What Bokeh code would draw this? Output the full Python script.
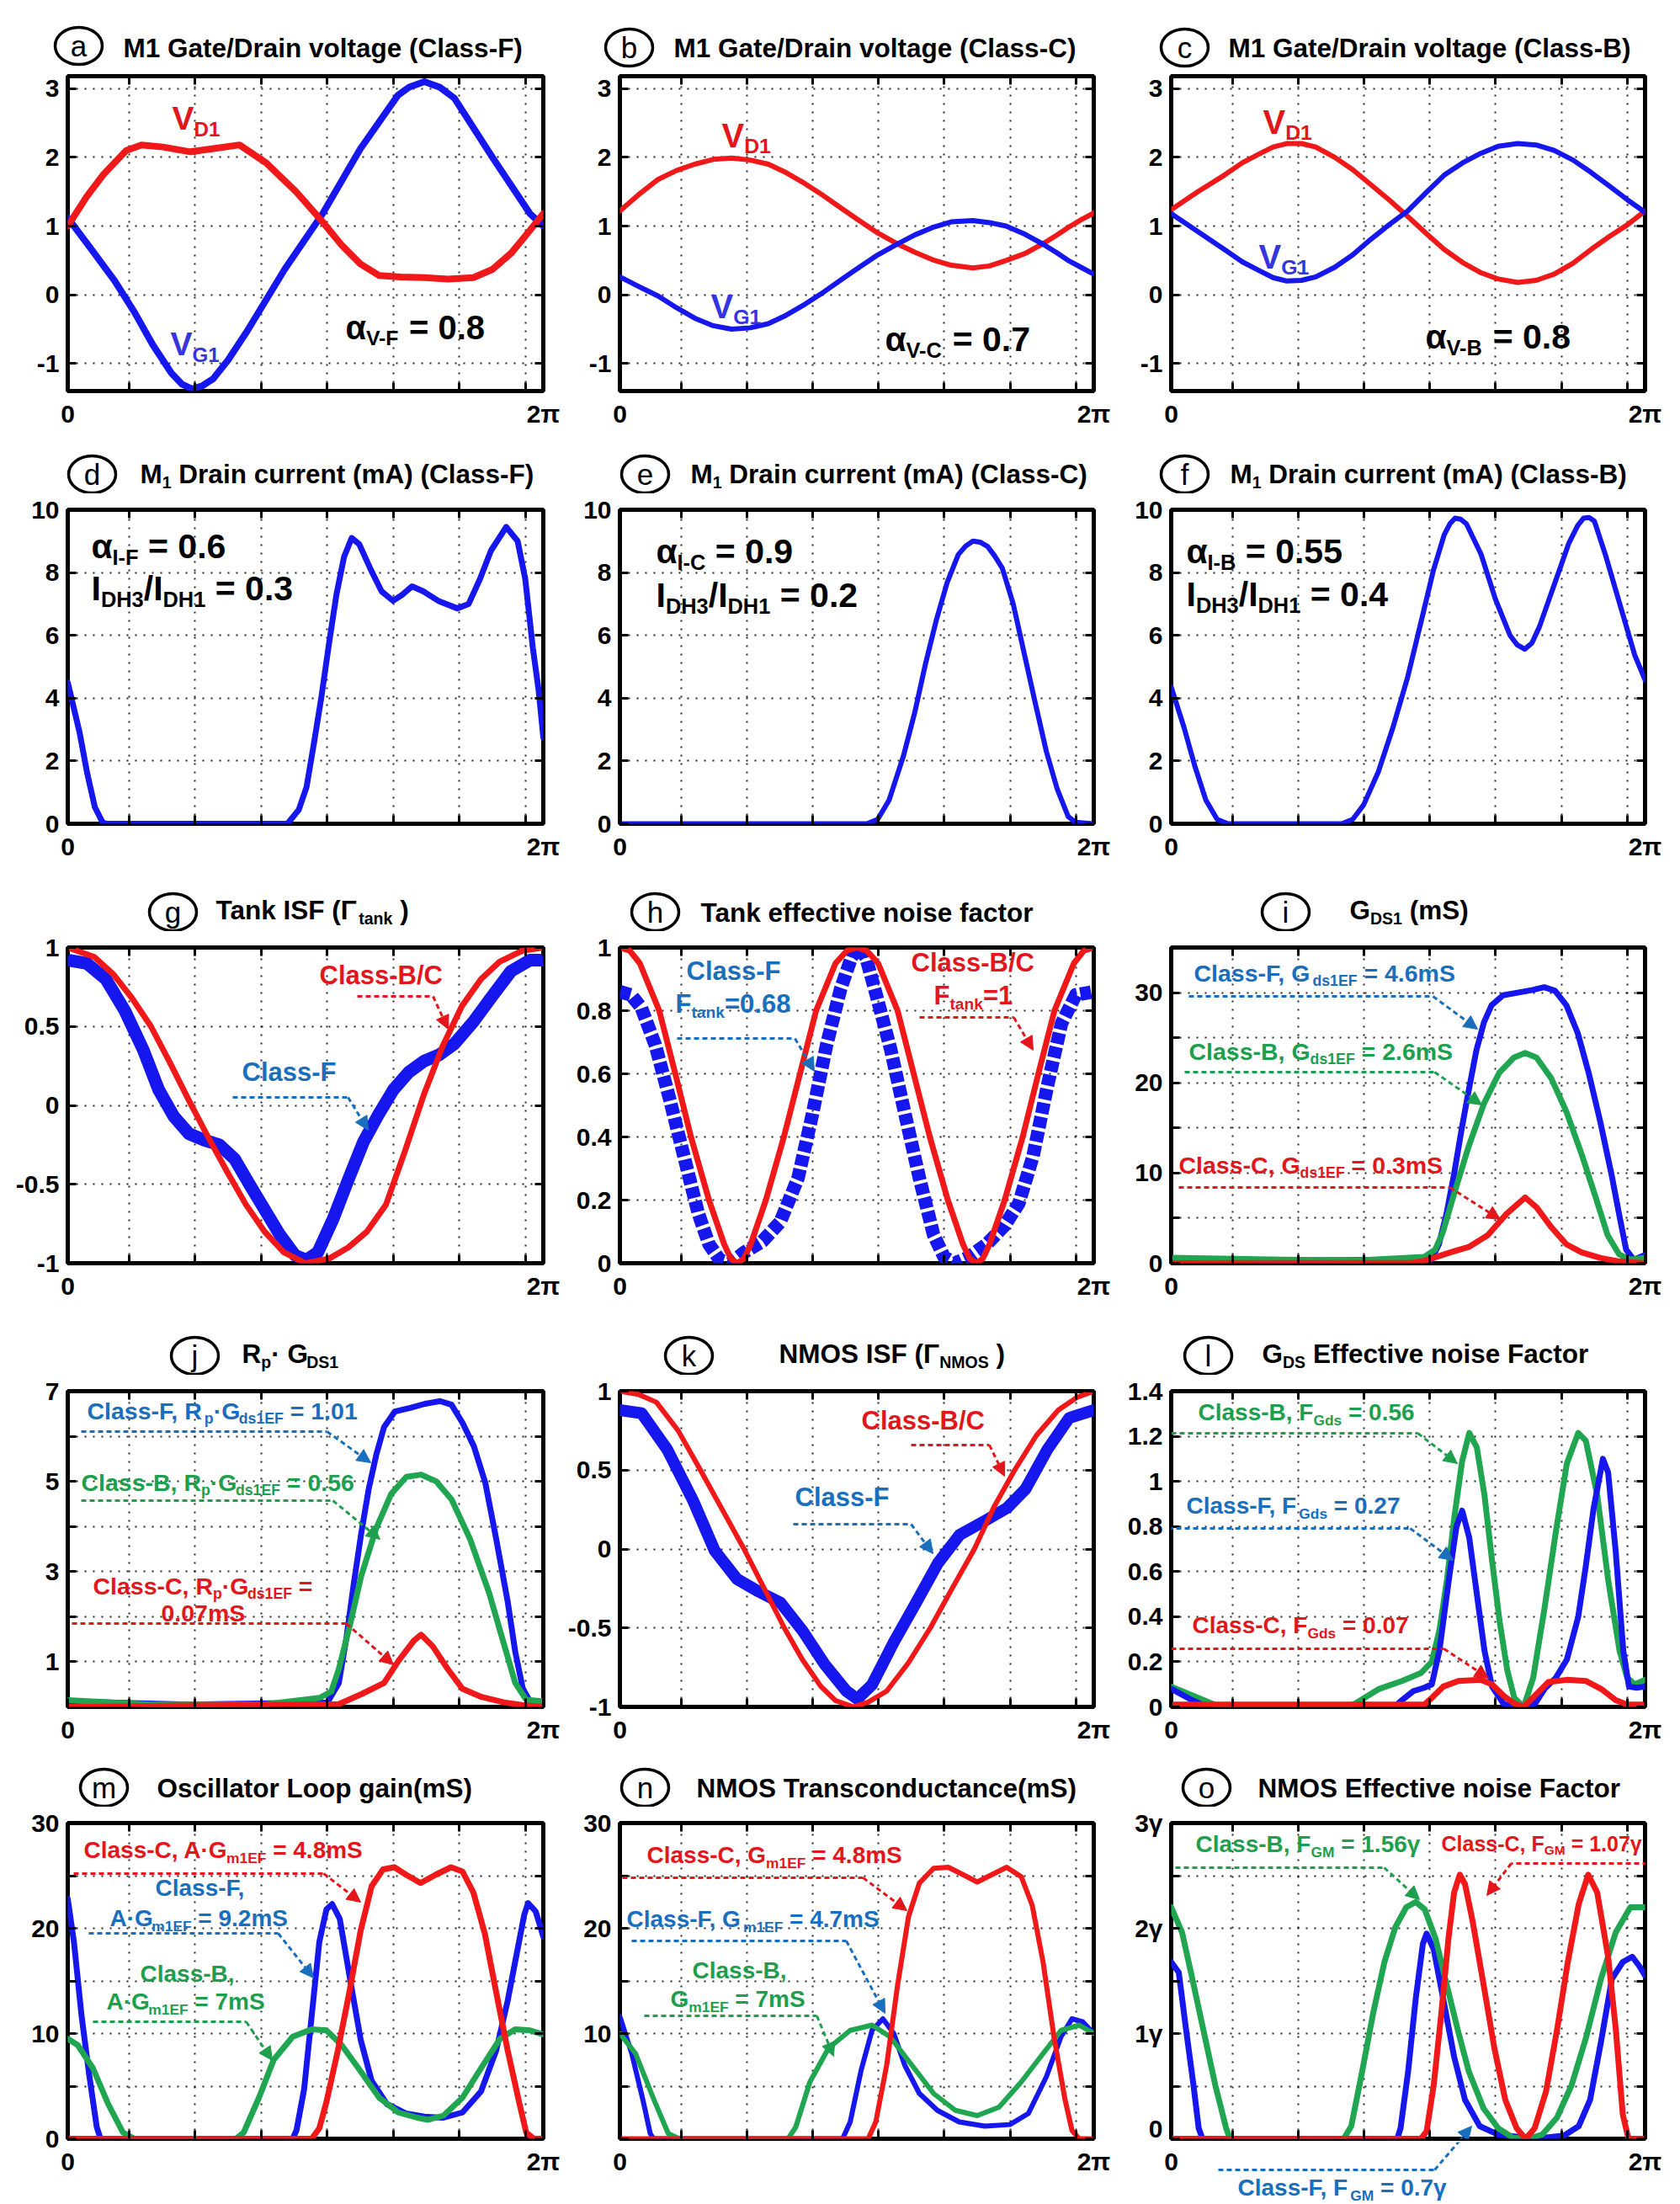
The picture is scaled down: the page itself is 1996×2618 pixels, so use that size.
import math
import re
from bokeh.plotting import figure
from bokeh.models import (Range1d, LinearAxis, Grid, FixedTicker, CustomJSTickFormatter,
                          Label, Arrow, NormalHead)
from bokeh.layouts import column, row
from bokeh.embed import file_html
from bokeh.resources import INLINE

TWO_PI = 2 * math.pi
FONT = "Liberation Sans"

# ------------------------------------------------------------------ data
# x values are phase / (2*pi)
# (a) Class-F voltages
A_X_VD1 = [0, 0.04, 0.075, 0.123, 0.155, 0.2, 0.258, 0.31, 0.361, 0.417, 0.48, 0.536, 0.575, 0.615,
           0.655, 0.70, 0.75, 0.80, 0.853, 0.893, 0.933, 0.972, 1.0]
A_VD1 = [1.0, 1.43, 1.75, 2.1, 2.18, 2.15, 2.08, 2.13, 2.18, 1.92, 1.5, 1.06, 0.73, 0.45,
         0.28, 0.26, 0.25, 0.23, 0.25, 0.37, 0.61, 0.94, 1.18]
A_X_VG1 = [0, 0.05, 0.099, 0.14, 0.179, 0.218, 0.24, 0.262, 0.284, 0.306, 0.337, 0.377, 0.456, 0.536,
           0.615, 0.694, 0.718, 0.75, 0.782, 0.813, 0.893, 0.972, 1.0]
A_VG1 = [1.12, 0.66, 0.2, -0.25, -0.73, -1.14, -1.3, -1.37, -1.32, -1.22, -0.95, -0.53, 0.37, 1.18,
         2.12, 2.9, 3.02, 3.1, 3.02, 2.86, 2.0, 1.18, 1.0]
# (b) Class-C voltages
B_X = [0, 0.04, 0.081, 0.12, 0.158, 0.197, 0.236, 0.275, 0.313, 0.35, 0.39, 0.43, 0.467, 0.505,
       0.544, 0.583, 0.622, 0.66, 0.699, 0.745, 0.78, 0.815, 0.855, 0.892, 0.92, 0.946, 0.973, 1.0]
B_VD1 = [1.22, 1.46, 1.68, 1.81, 1.9, 1.97, 1.99, 1.96, 1.9, 1.78, 1.62, 1.44, 1.26, 1.08,
         0.9, 0.75, 0.62, 0.51, 0.43, 0.39, 0.42, 0.5, 0.6, 0.74, 0.86, 0.98, 1.09, 1.19]
B_VG1 = [0.26, 0.12, -0.02, -0.19, -0.34, -0.45, -0.5, -0.48, -0.42, -0.3, -0.14, 0.04, 0.22, 0.4,
         0.58, 0.73, 0.87, 0.98, 1.06, 1.08, 1.05, 1.0, 0.88, 0.74, 0.62, 0.5, 0.4, 0.3]
# (c) Class-B voltages
C_X = [0, 0.056, 0.112, 0.15, 0.189, 0.215, 0.244, 0.275, 0.305, 0.345, 0.383, 0.42, 0.46, 0.499,
       0.54, 0.576, 0.615, 0.654, 0.69, 0.731, 0.77, 0.808, 0.848, 0.886, 0.925, 0.963, 1.0]
C_VD1 = [1.24, 1.5, 1.74, 1.92, 2.06, 2.15, 2.2, 2.2, 2.15, 2.0, 1.82, 1.61, 1.38, 1.14,
         0.88, 0.66, 0.47, 0.32, 0.23, 0.18, 0.21, 0.3, 0.46, 0.66, 0.85, 1.02, 1.22]
C_VG1 = [1.18, 0.92, 0.66, 0.48, 0.34, 0.25, 0.2, 0.21, 0.26, 0.4, 0.58, 0.8, 1.02, 1.22,
         1.5, 1.74, 1.92, 2.06, 2.16, 2.2, 2.18, 2.1, 1.96, 1.78, 1.58, 1.38, 1.2]
# (d) Class-F drain current
D_X = [0, 0.025, 0.041, 0.057, 0.073, 0.081, 0.462, 0.486, 0.502, 0.517, 0.533, 0.549, 0.565, 0.581,
       0.597, 0.613, 0.637, 0.66, 0.684, 0.704, 0.724, 0.748, 0.779, 0.819, 0.843, 0.867, 0.89, 0.922,
       0.946, 0.962, 0.978, 0.99, 1.0]
D_ID = [4.5, 2.9, 1.6, 0.53, 0.05, 0, 0, 0.45, 1.16, 2.5, 4.0, 5.7, 7.3, 8.5,
        9.1, 8.9, 8.1, 7.4, 7.1, 7.3, 7.56, 7.4, 7.1, 6.86, 7.0, 7.8, 8.7, 9.45,
        9.0, 7.8, 5.6, 4.27, 2.75]
# (e) Class-C drain current
E_X = [0, 0.521, 0.544, 0.568, 0.598, 0.622, 0.645, 0.668, 0.691, 0.714, 0.73, 0.745, 0.76, 0.776,
       0.79, 0.807, 0.83, 0.853, 0.876, 0.9, 0.923, 0.946, 0.961, 1.0]
E_ID = [0, 0, 0.14, 0.75, 2.14, 3.53, 5.1, 6.5, 7.7, 8.57, 8.85, 9.0, 8.97, 8.83,
        8.55, 8.14, 7.0, 5.44, 3.88, 2.3, 1.1, 0.23, 0.05, 0]
# (f) Class-B drain current
F_X = [0, 0.027, 0.05, 0.073, 0.097, 0.12, 0.36, 0.383, 0.406, 0.437, 0.468, 0.499, 0.53, 0.553, 0.576,
       0.588, 0.599, 0.611, 0.623, 0.654, 0.684, 0.715, 0.73, 0.746, 0.761, 0.777, 0.808, 0.839, 0.858,
       0.87, 0.882, 0.893, 0.916, 0.947, 0.978, 1.0]
F_ID = [4.35, 3.07, 1.83, 0.76, 0.14, 0, 0, 0.14, 0.6, 1.65, 3.07, 4.67, 6.6, 8.05, 9.2,
        9.55, 9.73, 9.7, 9.55, 8.58, 7.16, 6.0, 5.7, 5.56, 5.75, 6.27, 7.6, 8.93, 9.5,
        9.73, 9.75, 9.64, 8.58, 6.98, 5.38, 4.58]
# (g) Tank ISF
G_X_RED = [0, 0.056, 0.096, 0.135, 0.175, 0.215, 0.255, 0.295, 0.335, 0.375, 0.414, 0.454, 0.5, 0.55,
           0.59, 0.629, 0.669, 0.709, 0.749, 0.789, 0.829, 0.869, 0.908, 0.956, 1.0]
G_RED = [1.0, 0.94, 0.83, 0.68, 0.5, 0.27, 0.03, -0.2, -0.42, -0.63, -0.8, -0.93, -1.0, -0.97,
         -0.9, -0.8, -0.63, -0.29, 0.07, 0.38, 0.63, 0.8, 0.91, 0.98, 1.0]
G_X_BLUE = [0, 0.04, 0.08, 0.12, 0.159, 0.191, 0.223, 0.255, 0.287, 0.319, 0.351, 0.382, 0.414, 0.446,
            0.478, 0.502, 0.526, 0.558, 0.59, 0.622, 0.653, 0.685, 0.717, 0.749, 0.781, 0.813, 0.853,
            0.892, 0.932, 0.972, 1.0]
G_BLUE = [0.92, 0.9, 0.8, 0.6, 0.35, 0.1, -0.07, -0.18, -0.22, -0.25, -0.34, -0.5, -0.66, -0.82,
          -0.95, -0.98, -0.93, -0.72, -0.47, -0.23, -0.06, 0.1, 0.21, 0.28, 0.32, 0.39, 0.53,
          0.69, 0.85, 0.92, 0.92]
# (h) Tank effective noise factor
H_X_RED = [0, 0.021, 0.042, 0.083, 0.117, 0.15, 0.188, 0.22, 0.234, 0.248, 0.262, 0.276, 0.308, 0.346,
           0.38, 0.414, 0.455, 0.479, 0.5, 0.521, 0.545, 0.586, 0.62, 0.654, 0.692, 0.724, 0.738, 0.752,
           0.766, 0.78, 0.812, 0.85, 0.883, 0.917, 0.958, 0.979, 1.0]
H_RED = [1.0, 0.99, 0.95, 0.8, 0.6, 0.4, 0.2, 0.06, 0.015, 0, 0.015, 0.06, 0.2, 0.4,
         0.6, 0.8, 0.95, 0.99, 1.0, 0.99, 0.95, 0.8, 0.6, 0.4, 0.2, 0.06, 0.015, 0,
         0.015, 0.06, 0.2, 0.4, 0.6, 0.8, 0.95, 0.99, 1.0]
H_X_BLUE = [0, 0.023, 0.045, 0.075, 0.105, 0.135, 0.165, 0.188, 0.211, 0.233, 0.263, 0.301, 0.338,
            0.376, 0.406, 0.436, 0.466, 0.489, 0.504, 0.519, 0.541, 0.571, 0.602, 0.632, 0.662, 0.684,
            0.707, 0.737, 0.774, 0.812, 0.842, 0.872, 0.902, 0.932, 0.962, 1.0]
H_BLUE = [0.86, 0.85, 0.81, 0.69, 0.52, 0.34, 0.16, 0.06, 0.01, 0.0, 0.035, 0.07, 0.13,
          0.27, 0.47, 0.69, 0.87, 0.97, 1.0, 0.97, 0.85, 0.68, 0.47, 0.27, 0.09, 0.02,
          0.0, 0.02, 0.06, 0.12, 0.19, 0.34, 0.56, 0.76, 0.85, 0.86]
# (i) GDS1 (mS)
I_X_BLUE = [0, 0.233, 0.549, 0.565, 0.581, 0.597, 0.613, 0.628, 0.644, 0.66, 0.676, 0.7, 0.731, 0.763,
            0.787, 0.81, 0.834, 0.858, 0.881, 0.905, 0.929, 0.945, 0.96, 0.976, 1.0]
I_BLUE = [0.5, 0.3, 0.4, 2.1, 5.5, 9.9, 14.9, 19.2, 23.6, 26.7, 28.6, 29.7, 30.0, 30.3,
          30.6, 30.2, 28.6, 25.5, 21.1, 15.8, 9.9, 5.5, 1.5, 0.4, 0.9]
I_X_GREEN = [0, 0.233, 0.391, 0.534, 0.557, 0.573, 0.597, 0.628, 0.66, 0.692, 0.723, 0.747, 0.771,
             0.802, 0.834, 0.866, 0.897, 0.921, 0.945, 0.968, 1.0]
I_GREEN = [0.6, 0.4, 0.3, 0.7, 1.5, 3.4, 7.7, 13.0, 17.7, 21.1, 22.8, 23.3, 22.8,
           20.5, 16.8, 12.1, 7.1, 3.1, 1.0, 0.4, 0.6]
I_X_RED = [0, 0.51, 0.534, 0.589, 0.628, 0.668, 0.708, 0.747, 0.771, 0.802, 0.834, 0.866, 0.905, 0.945, 1.0]
I_RED = [0, 0.05, 0.25, 1.2, 1.8, 3.1, 5.5, 7.3, 6.2, 4.0, 2.1, 1.2, 0.6, 0.2, 0]
# (j) Rp * GDS1
J_X_BLUE = [0, 0.254, 0.546, 0.57, 0.586, 0.601, 0.617, 0.633, 0.649, 0.665, 0.688, 0.72, 0.751, 0.783,
            0.807, 0.83, 0.854, 0.878, 0.901, 0.925, 0.941, 0.957, 0.972, 1.0]
J_BLUE = [0.12, 0.05, 0.1, 0.53, 1.53, 2.7, 3.84, 4.84, 5.6, 6.2, 6.55, 6.63, 6.72, 6.78,
          6.7, 6.3, 5.78, 4.97, 3.72, 2.34, 1.22, 0.4, 0.12, 0.12]
J_X_GREEN = [0, 0.175, 0.412, 0.53, 0.554, 0.57, 0.594, 0.617, 0.649, 0.68, 0.712, 0.743, 0.775, 0.807,
             0.846, 0.886, 0.917, 0.941, 0.964, 1.0]
J_GREEN = [0.15, 0.05, 0.05, 0.2, 0.34, 0.84, 1.84, 2.9, 3.97, 4.72, 5.1, 5.15, 5.0, 4.6,
           3.72, 2.53, 1.4, 0.53, 0.16, 0.12]
J_X_RED = [0, 0.57, 0.617, 0.665, 0.696, 0.728, 0.743, 0.767, 0.799, 0.83, 0.87, 0.917, 0.964, 1.0]
J_RED = [0, 0.06, 0.28, 0.53, 1.03, 1.47, 1.6, 1.35, 0.84, 0.4, 0.22, 0.1, 0.03, 0]
# (k) NMOS ISF
K_X_RED = [0, 0.039, 0.077, 0.123, 0.17, 0.216, 0.262, 0.308, 0.347, 0.385, 0.424, 0.455, 0.493, 0.524,
           0.563, 0.609, 0.655, 0.701, 0.748, 0.79, 0.833, 0.879, 0.925, 0.964, 1.0]
K_RED = [1.0, 0.98, 0.93, 0.75, 0.5, 0.25, 0, -0.27, -0.5, -0.7, -0.87, -0.96, -1.0, -0.97,
         -0.9, -0.72, -0.5, -0.25, 0, 0.27, 0.5, 0.72, 0.88, 0.96, 1.0]
K_X_BLUE = [0, 0.046, 0.1, 0.154, 0.2, 0.247, 0.293, 0.339, 0.386, 0.432, 0.478, 0.501, 0.532, 0.578,
            0.625, 0.671, 0.717, 0.771, 0.817, 0.856, 0.902, 0.948, 1.0]
K_BLUE = [0.88, 0.86, 0.63, 0.31, -0.01, -0.19, -0.27, -0.34, -0.52, -0.73, -0.9, -0.95, -0.86, -0.59,
          -0.34, -0.09, 0.09, 0.18, 0.26, 0.38, 0.63, 0.83, 0.88]
# (l) GDS effective noise factor
L_X_GREEN = [0, 0.091, 0.115, 0.376, 0.392, 0.439, 0.487, 0.527, 0.55, 0.566, 0.582, 0.598, 0.614,
             0.629, 0.645, 0.661, 0.677, 0.693, 0.709, 0.724, 0.744, 0.764, 0.788, 0.812, 0.835,
             0.859, 0.875, 0.899, 0.922, 0.946, 0.962, 0.978, 1.0]
L_GREEN = [0.09, 0.01, 0, 0, 0.02, 0.08, 0.115, 0.15, 0.2, 0.34, 0.565, 0.85, 1.09,
           1.215, 1.15, 0.94, 0.65, 0.38, 0.165, 0.04, 0, 0.13, 0.44, 0.78, 1.08,
           1.215, 1.18, 0.94, 0.565, 0.25, 0.13, 0.1, 0.12]
L_X_BLUE = [0, 0.044, 0.075, 0.471, 0.487, 0.511, 0.534, 0.55, 0.566, 0.586, 0.602, 0.614, 0.629,
            0.645, 0.661, 0.677, 0.701, 0.717, 0.744, 0.768, 0.788, 0.812, 0.835, 0.859, 0.875,
            0.891, 0.911, 0.922, 0.938, 0.954, 0.966, 0.982, 1.0]
L_BLUE = [0.08, 0.03, 0, 0, 0.03, 0.07, 0.085, 0.1, 0.25, 0.565, 0.8, 0.87, 0.75,
          0.5, 0.25, 0.09, 0.015, 0, 0, 0.015, 0.08, 0.13, 0.21, 0.4, 0.625,
          0.875, 1.1, 1.04, 0.69, 0.25, 0.09, 0.085, 0.09]
L_X_RED = [0, 0.534, 0.55, 0.574, 0.606, 0.653, 0.677, 0.701, 0.724, 0.744, 0.768, 0.796, 0.835,
           0.875, 0.907, 0.938, 0.962, 1.0]
L_RED = [0.01, 0.01, 0.04, 0.09, 0.115, 0.12, 0.1, 0.05, 0.015, 0, 0.05, 0.11, 0.12,
         0.115, 0.08, 0.03, 0.01, 0.01]
# (m) Oscillator loop gain (mS)
M_X_BLUE = [0, 0.013, 0.029, 0.045, 0.061, 0.069, 0.473, 0.481, 0.497, 0.513, 0.529, 0.544, 0.556,
            0.572, 0.592, 0.616, 0.639, 0.671, 0.711, 0.75, 0.79, 0.83, 0.869, 0.901, 0.925, 0.945,
            0.96, 0.968, 0.984, 1.0]
M_BLUE = [22.8, 18.7, 11.7, 6.1, 1.1, 0, 0, 0.8, 4.7, 11.7, 18.7, 21.8, 22.3,
          20.9, 15.6, 9.4, 5.5, 3.3, 2.4, 2.1, 2.0, 2.5, 4.5, 8.4, 13.1, 17.8,
          21.3, 22.4, 21.6, 19.2]
M_X_GREEN = [0, 0.021, 0.053, 0.085, 0.116, 0.14, 0.354, 0.37, 0.402, 0.433, 0.473, 0.513, 0.544,
             0.576, 0.616, 0.655, 0.695, 0.735, 0.758, 0.79, 0.83, 0.869, 0.909, 0.941, 0.972, 1.0]
M_GREEN = [9.5, 8.9, 6.7, 3.3, 0.6, 0, 0, 0.6, 3.9, 7.5, 9.7, 10.4, 10.3,
           8.9, 6.4, 3.9, 2.5, 2.0, 1.8, 2.2, 3.9, 6.7, 9.5, 10.4, 10.3, 9.9]
M_X_RED = [0, 0.513, 0.529, 0.544, 0.568, 0.592, 0.616, 0.639, 0.663, 0.687, 0.711, 0.742, 0.774,
           0.806, 0.83, 0.853, 0.877, 0.901, 0.925, 0.949, 0.964, 0.98, 1.0]
M_RED = [0, 0, 1.0, 3.5, 8.4, 13.9, 19.8, 24.0, 25.6, 25.8, 25.1, 24.3, 25.1,
         25.8, 25.4, 23.4, 19.5, 13.9, 8.4, 3.5, 0.6, 0, 0]
# (n) NMOS transconductance (mS)
N_X_RED = [0, 0.524, 0.54, 0.563, 0.586, 0.609, 0.632, 0.662, 0.693, 0.724, 0.754, 0.785, 0.816,
           0.847, 0.87, 0.893, 0.916, 0.939, 0.954, 0.969, 1.0]
N_RED = [0, 0, 1.6, 7.0, 14.6, 21.1, 24.3, 25.7, 25.8, 25.1, 24.4, 25.1, 25.8,
         24.9, 22.2, 16.8, 9.7, 3.8, 0.8, 0, 0]
N_X_BLUE = [0, 0.025, 0.048, 0.064, 0.071, 0.47, 0.486, 0.509, 0.532, 0.555, 0.578, 0.601, 0.632,
            0.67, 0.716, 0.77, 0.823, 0.862, 0.9, 0.931, 0.954, 0.977, 1.0]
N_BLUE = [11.6, 8.1, 3.8, 0.5, 0, 0, 1.6, 6.5, 10.3, 11.4, 10.0, 7.0, 4.3,
          2.7, 1.6, 1.2, 1.35, 2.4, 5.9, 9.7, 11.4, 11.1, 10.0]
N_X_GREEN = [0, 0.033, 0.071, 0.102, 0.125, 0.355, 0.371, 0.401, 0.44, 0.486, 0.532, 0.57, 0.616,
             0.662, 0.708, 0.754, 0.8, 0.847, 0.893, 0.931, 0.969, 1.0]
N_GREEN = [10.0, 8.1, 3.8, 0.5, 0, 0, 1.1, 5.4, 8.6, 10.3, 10.8, 9.7, 7.0,
           4.3, 2.7, 2.2, 3.0, 5.4, 8.1, 10.3, 10.8, 10.0]
# (o) NMOS effective noise factor (units of gamma)
O_X_GREEN = [0, 0.023, 0.047, 0.07, 0.093, 0.116, 0.124, 0.364, 0.38, 0.403, 0.426, 0.45, 0.473,
             0.496, 0.516, 0.535, 0.558, 0.581, 0.605, 0.628, 0.659, 0.69, 0.721, 0.752, 0.783,
             0.814, 0.845, 0.876, 0.907, 0.938, 0.969, 1.0]
O_GREEN = [2.2, 1.96, 1.47, 0.99, 0.51, 0.1, 0, 0, 0.12, 0.64, 1.19, 1.68, 2.01,
           2.2, 2.25, 2.18, 1.9, 1.47, 1.03, 0.64, 0.29, 0.1, 0.01, 0, 0.04,
           0.2, 0.51, 0.97, 1.52, 1.96, 2.2, 2.2]
O_X_BLUE = [0, 0.016, 0.031, 0.047, 0.058, 0.066, 0.477, 0.484, 0.5, 0.516, 0.531, 0.539, 0.554,
            0.574, 0.597, 0.62, 0.651, 0.69, 0.767, 0.829, 0.86, 0.884, 0.907, 0.93, 0.953, 0.973,
            0.988, 1.0]
O_BLUE = [1.68, 1.58, 1.05, 0.51, 0.1, 0, 0, 0.1, 0.64, 1.33, 1.85, 1.95, 1.8,
          1.33, 0.78, 0.37, 0.12, 0.04, 0, 0.03, 0.12, 0.37, 0.92, 1.52, 1.68, 1.73,
          1.64, 1.55]
O_X_RED = [0, 0.527, 0.539, 0.554, 0.57, 0.585, 0.597, 0.609, 0.62, 0.636, 0.659, 0.682, 0.705,
           0.729, 0.748, 0.767, 0.791, 0.814, 0.837, 0.86, 0.88, 0.899, 0.922, 0.938, 0.953, 0.965, 1.0]
O_RED = [0, 0, 0.07, 0.51, 1.19, 1.9, 2.34, 2.51, 2.42, 2.07, 1.47, 0.86, 0.37,
         0.1, 0, 0.1, 0.45, 1.03, 1.68, 2.23, 2.51, 2.34, 1.73, 1.05, 0.23, 0, 0]

# tick values / labels
YT_V = [-1, 0, 1, 2, 3]
YL_V = ["-1", "0", "1", "2", "3"]
YT_I = [0, 2, 4, 6, 8, 10]
YL_I = ["0", "2", "4", "6", "8", "10"]
YT_ISF = [-1, -0.5, 0, 0.5, 1]
YL_ISF = ["-1", "-0.5", "0", "0.5", "1"]
YT_H = [0, 0.2, 0.4, 0.6, 0.8, 1.0]
YL_H = ["0", "0.2", "0.4", "0.6", "0.8", "1"]
YT_G = [0, 5, 10, 15, 20, 25, 30]
YL_G = ["0", "", "10", "", "20", "", "30"]
YL_N = ["", "", "10", "", "20", "", "30"]
YT_J = [1, 2, 3, 4, 5, 6, 7]
YL_J = ["1", "", "3", "", "5", "", "7"]
YT_L = [0, 0.2, 0.4, 0.6, 0.8, 1.0, 1.2, 1.4]
YL_L = ["0", "0.2", "0.4", "0.6", "0.8", "1", "1.2", "1.4"]
YT_O = [0, 0.5, 1, 1.5, 2, 2.5, 3]
YL_O = ["0", "", "1γ", "", "2γ", "", "3γ"]
XL_START = "0"
XL_END = "2π"

# ------------------------------------------------------------------ style / layout
RED = "#F01818"
BLUE = "#1616EE"
GREEN = "#20A550"
RED_T = "#E3161C"
BLUE_T = "#1A6EBE"
GREEN_T = "#1E9F4D"
VG_T = "#3535E0"

COL_CELL = [668, 657, 671]
COL_LB = [80, 68, 66]
COL_FW = [565, 563, 563]
ROW_START = [0, 520, 1045, 1570, 2090]
ROW_STRIP = [84, 66, 61, 63, 56]    # title strip heights
ROW_TB = [6, 19, 19, 19, 19]        # plot top border
ROW_FH = [374, 373, 375, 375, 375]
ROW_BB = [56, 67, 70, 63, 78]
O_BB = 4                            # panel (o): x labels go into a strip below

WB = {' ': 278, '(': 333, ')': 333, ',': 278, '-': 333, '.': 278, '/': 278, '=': 584, '·': 278,
      'A': 722, 'B': 722, 'C': 722, 'D': 722, 'E': 667, 'F': 611, 'G': 778, 'H': 722, 'I': 278,
      'L': 611, 'M': 833, 'N': 722, 'O': 778, 'R': 722, 'S': 667, 'T': 611, 'V': 667,
      'a': 556, 'c': 556, 'd': 611, 'e': 556, 'f': 333, 'g': 611, 'i': 278, 'k': 556, 'l': 278,
      'm': 889, 'n': 611, 'o': 611, 'p': 611, 'r': 389, 's': 556, 't': 333, 'u': 611, 'v': 556,
      'α': 611, 'γ': 556, 'Γ': 611, 'π': 611}
SUB = 0.62


def tw(s, size):
    return size * sum(WB.get(ch, 556) for ch in s) / 1000.0


def parse(s):
    out, pos = [], 0
    for m in re.finditer(r'_\{([^}]*)\}', s):
        if m.start() > pos:
            out.append((s[pos:m.start()], False))
        out.append((m.group(1), True))
        pos = m.end()
    if pos < len(s):
        out.append((s[pos:], False))
    return out


class Pan:
    def __init__(self, L, T, W, H, y0, y1):
        self.L, self.T, self.W, self.H, self.y0, self.y1 = L, T, W, H, y0, y1

    def to_data(self, X, Y):
        return ((X - self.L) / self.W * TWO_PI,
                self.y0 + (self.T + self.H - Y) / self.H * (self.y1 - self.y0))


class Ident:
    def to_data(self, X, Y):
        return X, Y


IDENT = Ident()


def no_align(fig):
    try:
        fig.frame_align = False
    except Exception:
        pass


def lab(p, x, y, text, size, color, dx=0.0, dy=0.0, bold=True, align="left"):
    p.add_layout(Label(x=x, y=y, x_offset=dx, y_offset=dy, text=text, text_font=FONT,
                       text_font_size=f"{size:.1f}px", text_font_style="bold" if bold else "normal",
                       text_color=color, text_baseline="middle", text_align=align))


def rich(p, pan, text, X, Y, color, size):
    x, y = pan.to_data(X, Y)
    off = 0.0
    for t, sub in parse(text):
        s = size * SUB if sub else size
        core = t.strip(' ')
        if not core:
            off += tw(t, s)
            continue
        lead = len(t) - len(t.lstrip(' '))
        trail = len(t) - len(t.rstrip(' '))
        off += tw(' ' * lead, s)
        lab(p, x, y, core, s, color, dx=off, dy=(-0.33 * size if sub else 0.0))
        off += tw(core, s) + tw(' ' * trail, s)


def arrow(p, pan, color, pts, head=True):
    for i in range(len(pts) - 1):
        x0, y0 = pan.to_data(*pts[i])
        x1, y1 = pan.to_data(*pts[i + 1])
        last = (i == len(pts) - 2)
        hd = NormalHead(size=16, fill_color=color, line_color=color) if (last and head) else None
        p.add_layout(Arrow(x_start=x0, y_start=y0, x_end=x1, y_end=y1, line_color=color,
                           line_width=3, line_dash="6 4", end=hd))


def fmt(ticks, labels):
    return CustomJSTickFormatter(args=dict(t=list(ticks), l=list(labels)), code="""
        for (let i = 0; i < t.length; i++) { if (Math.abs(t[i] - tick) < 1e-6) return l[i]; }
        return '';""")


def make_axis(ticker, formatter, blank=False):
    ax = LinearAxis(ticker=ticker, formatter=formatter, axis_line_color=None,
                    major_tick_in=10, major_tick_out=0, major_tick_line_width=3,
                    major_tick_line_color="black", minor_tick_line_color=None,
                    major_label_text_font=FONT, major_label_text_font_style="bold",
                    major_label_text_font_size="30px", major_label_standoff=10,
                    major_label_text_color="black")
    if blank:
        ax.major_label_text_font_size = "1px"
        ax.major_label_standoff = 0
    return ax


def strip(x0, y0, w, h):
    s = figure(width=w, height=h, x_range=Range1d(x0, x0 + w), y_range=Range1d(y0 + h, y0),
               min_border=0, min_border_left=0, min_border_right=0, min_border_top=0,
               min_border_bottom=0, x_axis_location=None, y_axis_location=None,
               toolbar_location=None, tools="", output_backend="svg")
    s.center = [m for m in s.center if not isinstance(m, Grid)]
    s.outline_line_color = None
    s.background_fill_color = "white"
    s.border_fill_color = "white"
    no_align(s)
    return s


GRID_X = [(0.93 + k) / 7.2 * TWO_PI for k in range(7)]
X_TICKS = [0.0] + GRID_X + [TWO_PI]
X_LABELS = [XL_START] + [""] * len(GRID_X) + [XL_END]

SPECS = [
    ("a", (-1.4, 3.18), YT_V, YL_V, [(A_X_VG1, A_VG1, BLUE, 8, None), (A_X_VD1, A_VD1, RED, 8, None)]),
    ("b", (-1.4, 3.18), YT_V, YL_V, [(B_X, B_VD1, RED, 6, None), (B_X, B_VG1, BLUE, 6, None)]),
    ("c", (-1.4, 3.18), YT_V, YL_V, [(C_X, C_VD1, RED, 6, None), (C_X, C_VG1, BLUE, 6, None)]),
    ("d", (0, 10), YT_I, YL_I, [(D_X, D_ID, BLUE, 7, None)]),
    ("e", (0, 10), YT_I, YL_I, [(E_X, E_ID, BLUE, 6, None)]),
    ("f", (0, 10), YT_I, YL_I, [(F_X, F_ID, BLUE, 6, None)]),
    ("g", (-1, 1), YT_ISF, YL_ISF, [(G_X_BLUE, G_BLUE, BLUE, 15, None), (G_X_RED, G_RED, RED, 7, None)]),
    ("h", (0, 1), YT_H, YL_H, [(H_X_BLUE, H_BLUE, BLUE, 16, "13 4"), (H_X_RED, H_RED, RED, 7, None)]),
    ("i", (0, 35), YT_G, YL_G, [(I_X_BLUE, I_BLUE, BLUE, 7, None), (I_X_GREEN, I_GREEN, GREEN, 7, None),
                                (I_X_RED, I_RED, RED, 7, None)]),
    ("j", (0, 7), YT_J, YL_J, [(J_X_BLUE, J_BLUE, BLUE, 7, None), (J_X_GREEN, J_GREEN, GREEN, 7, None),
                               (J_X_RED, J_RED, RED, 7, None)]),
    ("k", (-1, 1), YT_ISF, YL_ISF, [(K_X_BLUE, K_BLUE, BLUE, 14, None), (K_X_RED, K_RED, RED, 6, None)]),
    ("l", (0, 1.4), YT_L, YL_L, [(L_X_GREEN, L_GREEN, GREEN, 7, None), (L_X_BLUE, L_BLUE, BLUE, 7, None),
                                 (L_X_RED, L_RED, RED, 7, None)]),
    ("m", (0, 30), YT_G, YL_G, [(M_X_BLUE, M_BLUE, BLUE, 7, None), (M_X_GREEN, M_GREEN, GREEN, 7, None),
                                (M_X_RED, M_RED, RED, 7, None)]),
    ("n", (0, 30), YT_G, YL_N, [(N_X_BLUE, N_BLUE, BLUE, 6, None), (N_X_GREEN, N_GREEN, GREEN, 6, None),
                                (N_X_RED, N_RED, RED, 6, None)]),
    ("o", (0, 3), YT_O, YL_O, [(O_X_BLUE, O_BLUE, BLUE, 7, None), (O_X_GREEN, O_GREEN, GREEN, 7, None),
                               (O_X_RED, O_RED, RED, 7, None)]),
]

# titles: circle centre (page px), title text, title left x, centre y
TITLES = {
    "a": (93, 54, "M1 Gate/Drain voltage (Class-F)", 146, 56),
    "b": (747, 56, "M1 Gate/Drain voltage (Class-C)", 800, 56),
    "c": (1407, 56, "M1 Gate/Drain voltage (Class-B)", 1459, 56),
    "d": (109, 563, "M_{1} Drain current (mA) (Class-F)", 166, 562),
    "e": (766, 563, "M_{1} Drain current (mA) (Class-C)", 820, 562),
    "f": (1407, 563, "M_{1} Drain current (mA) (Class-B)", 1461, 562),
    "g": (205, 1083, "Tank ISF (Γ_{tank} )", 256, 1080),
    "h": (778, 1083, "Tank effective noise factor", 832, 1083),
    "i": (1527, 1083, "G_{DS1} (mS)", 1603, 1080),
    "j": (231, 1610, "R_{p}· G_{DS1}", 287, 1607),
    "k": (818, 1610, "NMOS ISF (Γ_{NMOS} )", 925, 1607),
    "l": (1435, 1610, "G_{DS} Effective noise Factor", 1499, 1607),
    "m": (123, 2123, "Oscillator Loop gain(mS)", 186, 2123),
    "n": (766, 2123, "NMOS Transconductance(mS)", 827, 2123),
    "o": (1433, 2123, "NMOS Effective noise Factor", 1494, 2123),
}

# in-plot texts: text, colour, size, left x, centre y (page px)
TEXTS = {
    "a": [("V_{D1}", RED_T, 39, 204, 140), ("V_{G1}", VG_T, 39, 202, 408),
          ("α_{V-F} = 0.8", "black", 40, 410, 388)],
    "b": [("V_{D1}", RED_T, 40, 857, 160), ("V_{G1}", VG_T, 40, 844, 363),
          ("α_{V-C} = 0.7", "black", 41, 1051, 402)],
    "c": [("V_{D1}", RED_T, 40, 1500, 144), ("V_{G1}", VG_T, 40, 1495, 304),
          ("α_{V-B} = 0.8", "black", 41, 1693, 399)],
    "d": [("α_{I-F} = 0.6", "black", 41, 108, 648), ("I_{DH3}/I_{DH1} = 0.3", "black", 41, 108, 698)],
    "e": [("α_{I-C} = 0.9", "black", 41, 779, 654), ("I_{DH3}/I_{DH1} = 0.2", "black", 41, 779, 706)],
    "f": [("α_{I-B} = 0.55", "black", 41, 1409, 654), ("I_{DH3}/I_{DH1} = 0.4", "black", 41, 1409, 705)],
    "g": [("Class-B/C", RED_T, 31, 379, 1158), ("Class-F", BLUE_T, 31, 287, 1273)],
    "h": [("Class-F", BLUE_T, 31, 815, 1153), ("F_{tank}=0.68", BLUE_T, 31, 802, 1192),
          ("Class-B/C", RED_T, 31, 1082, 1143), ("F_{tank}=1", RED_T, 31, 1109, 1182)],
    "i": [("Class-F, G_{ds1EF} = 4.6mS", BLUE_T, 28.5, 1418, 1155),
          ("Class-B, G_{ds1EF} = 2.6mS", GREEN_T, 28.5, 1412, 1248),
          ("Class-C, G_{ds1EF} = 0.3mS", RED_T, 28.5, 1400, 1383)],
    "j": [("Class-F, R_{p}·G_{ds1EF} = 1.01", BLUE_T, 28.5, 103, 1675),
          ("Class-B, R_{p}·G_{ds1EF} = 0.56", GREEN_T, 28.5, 96, 1760),
          ("Class-C, R_{p}·G_{ds1EF} =", RED_T, 28.5, 110, 1883),
          ("0.07mS", RED_T, 28.5, 191, 1915)],
    "k": [("Class-B/C", RED_T, 31, 1023, 1687), ("Class-F", BLUE_T, 31, 944, 1778)],
    "l": [("Class-B, F_{Gds} = 0.56", GREEN_T, 28, 1423, 1677),
          ("Class-F, F_{Gds} = 0.27", BLUE_T, 28, 1409, 1788),
          ("Class-C, F_{Gds} = 0.07", RED_T, 28, 1416, 1930)],
    "m": [("Class-C, A·G_{m1EF} = 4.8mS", RED_T, 28, 99, 2197),
          ("Class-F,", BLUE_T, 28, 184, 2242), ("A·G_{m1EF} = 9.2mS", BLUE_T, 28, 130, 2278),
          ("Class-B,", GREEN_T, 28, 166, 2344), ("A·G_{m1EF} = 7mS", GREEN_T, 28, 126, 2377)],
    "n": [("Class-C, G_{m1EF} = 4.8mS", RED_T, 28, 768, 2203),
          ("Class-F, G_{m1EF} = 4.7mS", BLUE_T, 28, 744, 2279),
          ("Class-B,", GREEN_T, 28, 822, 2340), ("G_{m1EF} = 7mS", GREEN_T, 28, 796, 2374)],
    "o": [("Class-B, F_{GM} = 1.56γ", GREEN_T, 28, 1420, 2190),
          ("Class-C, F_{GM} = 1.07γ", RED_T, 25, 1712, 2189)],
}
# texts of panel (o) that sit below its frame
O_BELOW_TEXTS = [("Class-F, F_{GM} = 0.7γ", BLUE_T, 28, 1470, 2598)]

ARROWS = {
    "g": [(RED_T, [(424, 1183), (514, 1183), (532, 1222)]),
          (BLUE_T, [(276, 1303), (413, 1303), (437, 1342)])],
    "h": [(BLUE_T, [(804, 1233), (944, 1233), (967, 1272)]),
          (RED_T, [(1092, 1208), (1204, 1208), (1227, 1247)])],
    "i": [(BLUE_T, [(1412, 1183), (1702, 1183), (1755, 1222)]),
          (GREEN_T, [(1407, 1273), (1704, 1273), (1760, 1312)]),
          (RED_T, [(1400, 1410), (1722, 1410), (1782, 1448)])],
    "j": [(BLUE_T, [(96, 1700), (388, 1700), (440, 1737)]),
          (GREEN_T, [(96, 1782), (395, 1782), (451, 1828)]),
          (RED_T, [(85, 1928), (411, 1928), (467, 1977)])],
    "k": [(RED_T, [(1082, 1716), (1175, 1716), (1193, 1753)]),
          (BLUE_T, [(942, 1810), (1082, 1810), (1108, 1845)])],
    "l": [(GREEN_T, [(1391, 1702), (1684, 1702), (1731, 1738)]),
          (BLUE_T, [(1387, 1815), (1675, 1815), (1726, 1853)]),
          (RED_T, [(1391, 1958), (1715, 1958), (1768, 1993)])],
    "m": [(RED_T, [(87, 2225), (384, 2225), (428, 2259)]),
          (BLUE_T, [(105, 2296), (330, 2296), (372, 2349)]),
          (GREEN_T, [(110, 2401), (292, 2401), (323, 2447)])],
    "n": [(RED_T, [(739, 2230), (1025, 2230), (1077, 2269)]),
          (BLUE_T, [(750, 2305), (1005, 2305), (1051, 2391)]),
          (GREEN_T, [(765, 2394), (970, 2394), (990, 2442)])],
    "o": [(GREEN_T, [(1396, 2218), (1644, 2218), (1686, 2256)]),
          (RED_T, [(1967, 2213), (1795, 2213), (1766, 2251)])],
}
# (o) Class-F pointer: dashed part below the frame, last piece (with head) inside the frame
O_BELOW_ARROW = [(1447, 2577), (1704, 2577), (1733, 2543)]
O_INSIDE_ARROW = [(1733, 2543), (1748, 2525)]

# ------------------------------------------------------------------ build
cells = []
for idx, (key, yr, yt, yl, lines) in enumerate(SPECS):
    r, c = divmod(idx, 3)
    x_cell = sum(COL_CELL[:c])
    y_cell = ROW_START[r]
    lb, fw = COL_LB[c], COL_FW[c]
    rb = COL_CELL[c] - lb - fw
    fh = ROW_FH[r]
    tb = ROW_TB[r]
    bb = O_BB if key == "o" else ROW_BB[r]
    sh = ROW_STRIP[r]
    L = x_cell + lb
    T = y_cell + sh + tb
    pan = Pan(L, T, fw, fh, yr[0], yr[1])

    # title strip
    s = strip(x_cell, y_cell, COL_CELL[c], sh)
    cx, cy, ttl, tx, ty = TITLES[key]
    s.ellipse(x=[cx], y=[cy], width=[56], height=[44], fill_color=None, line_color="black",
              line_width=3.5)
    lab(s, cx, cy, key, 35, "black", bold=False, align="center")
    rich(s, IDENT, ttl, tx, ty, "black", 31.5)

    # plot
    p = figure(width=COL_CELL[c], height=tb + fh + bb, min_border_left=lb, min_border_right=rb,
               min_border_top=tb, min_border_bottom=bb, x_range=Range1d(0, TWO_PI),
               y_range=Range1d(yr[0], yr[1]), x_axis_location=None, y_axis_location=None,
               toolbar_location=None, tools="", output_backend="svg")
    no_align(p)
    p.center = [m for m in p.center if not isinstance(m, Grid)]
    p.outline_line_color = "black"
    p.outline_line_width = 5
    p.background_fill_color = "white"
    p.border_fill_color = "white"

    xt = FixedTicker(ticks=X_TICKS)
    ytk = FixedTicker(ticks=yt)
    for dim, tk in ((0, xt), (1, ytk)):
        p.add_layout(Grid(dimension=dim, ticker=tk, grid_line_color="black", grid_line_dash="2 8",
                          grid_line_width=2, grid_line_alpha=0.85))
    blankf = fmt([], [])
    if key == "o":
        p.add_layout(make_axis(xt, blankf, blank=True), "below")
    else:
        p.add_layout(make_axis(xt, fmt(X_TICKS, X_LABELS)), "below")
    p.add_layout(make_axis(xt, blankf, blank=True), "above")
    p.add_layout(make_axis(ytk, fmt(yt, yl)), "left")
    p.add_layout(make_axis(ytk, blankf, blank=True), "right")

    for xs, ys, col, lw, dash in lines:
        kw = dict(line_color=col, line_width=lw, line_join="round")
        if dash:
            kw["line_dash"] = dash
            kw["line_cap"] = "butt"
        else:
            kw["line_cap"] = "round"
        p.line([v * TWO_PI for v in xs], ys, **kw)

    for text, col, size, X, Y in TEXTS.get(key, []):
        rich(p, pan, text, X, Y, col, size)
    for col, pts in ARROWS.get(key, []):
        arrow(p, pan, col, pts)

    parts = [s, p]
    if key == "o":
        arrow(p, pan, BLUE_T, O_INSIDE_ARROW)
        y_b = T + fh + bb
        bs = strip(x_cell, y_b, COL_CELL[c], 2618 - y_b)
        lab(bs, L, T + fh + 27, XL_START, 30, "black", align="center")
        lab(bs, L + fw, T + fh + 27, XL_END, 30, "black", align="center")
        for text, col, size, X, Y in O_BELOW_TEXTS:
            rich(bs, IDENT, text, X, Y, col, size)
        arrow(bs, IDENT, BLUE_T, O_BELOW_ARROW, head=False)
        parts.append(bs)
    cells.append(column(*parts))

layout = column(*[row(*cells[i * 3:(i + 1) * 3]) for i in range(5)])
open("out.html", "w").write(file_html(layout, INLINE))
